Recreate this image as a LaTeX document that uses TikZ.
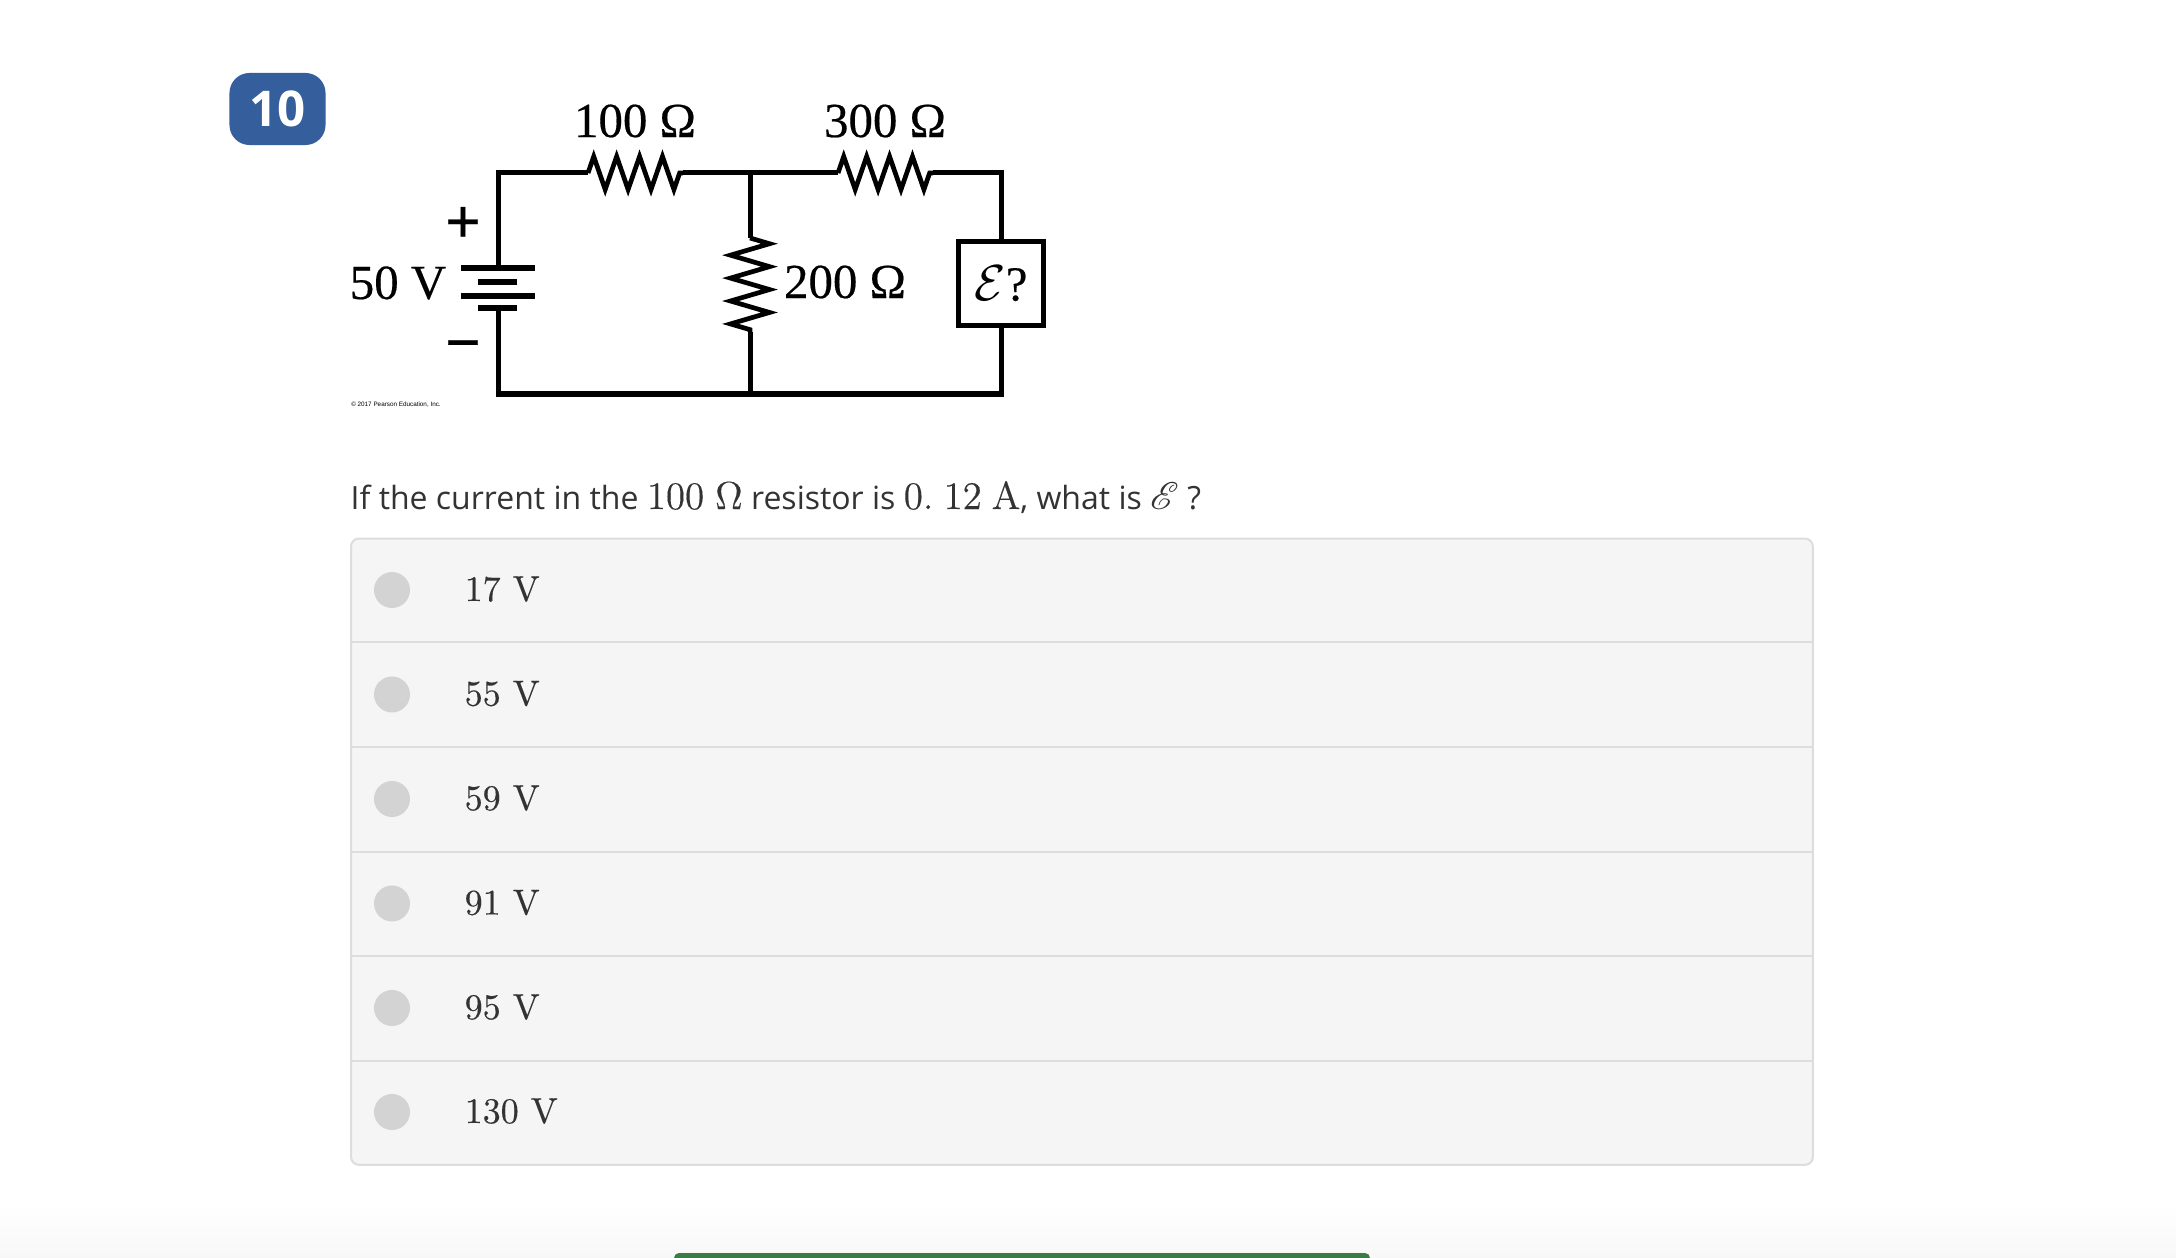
\documentclass[tikz,border=0pt]{standalone}
\usepackage{fontspec}
\usepackage{mathrsfs}
\usetikzlibrary{decorations.pathmorphing}
\newfontfamily\uifont{Open Sans}
\newfontfamily\figfont[FakeBold=0.4]{Liberation Serif}
\newfontfamily\notefont{Liberation Sans}
\newfontfamily\answerfont[FakeBold=0.3]{Latin Modern Roman}
\definecolor{badgeblue}{HTML}{345E9C}
\definecolor{inktext}{HTML}{333333}
\definecolor{cardfill}{HTML}{F5F5F5}
\definecolor{cardline}{HTML}{DDDDDD}
\definecolor{radiogray}{HTML}{D3D3D3}
\definecolor{btngreen}{HTML}{3A7D44}
\begin{document}
\begin{tikzpicture}[
    x=0.01cm, y=-0.01cm,
    wire/.style={line width=0.05cm, line join=miter},
    plate/.style={line width=0.055cm},
    resistor/.style={wire, line width=0.047cm, decorate, decoration={zigzag, segment length=0.229cm, amplitude=#1}},
    figlabel/.style={inner sep=0, font=\figfont\fontsize{13.9}{16}\selectfont},
    sign/.style={inner sep=0, font=\figfont\bfseries\fontsize{18}{20}\selectfont},
    badge/.style={fill=badgeblue, rounded corners=0.2cm, minimum width=0.96cm, minimum height=0.72cm, inner sep=0, text=white, font=\uifont\bfseries\fontsize{14}{16}\selectfont},
    card/.style={draw=cardline, fill=cardfill, line width=0.02cm, rounded corners=0.08cm, minimum width=14.61cm, minimum height=6.26cm, anchor=north west, inner sep=0},
    divider/.style={draw=cardline, line width=0.02cm},
    radio/.style={circle, fill=radiogray, minimum size=0.36cm, inner sep=0},
    answer/.style={anchor=base west, inner sep=0, text=inktext, font=\answerfont\fontsize{10.24}{12}\selectfont}
]
    \useasboundingbox (0,0) rectangle (2176,1258);
    \fill[white] (0,0) rectangle (2176,1258);
    \shade[top color=white, bottom color=black!3] (0,1205) rectangle (2176,1258);

    \node[badge] (qnum) at (277.5,109) {10};

    % circuit
    \coordinate (tl) at (498,173);
    \coordinate (tm) at (750,173);
    \coordinate (tr) at (1001,173);
    \coordinate (bl) at (498,394);
    \coordinate (bm) at (750,394);
    \coordinate (br) at (1001,394);
    \coordinate (rain) at (588,173);
    \coordinate (raout) at (683,173);
    \coordinate (rbin) at (838,173);
    \coordinate (rbout) at (933,173);
    \coordinate (rcin) at (750,238);
    \coordinate (rcout) at (750,332);
    \coordinate (battop) at (498,268);
    \coordinate (batbot) at (498,308);

    \node[draw, line width=0.042cm, minimum width=0.85cm, minimum height=0.84cm, inner sep=0, figlabel] (emf) at (1001,283.5) {$\mathcal{E}$?};

    \draw[wire] (battop) -- (tl) -- (rain);
    \draw[resistor=0.165cm] (rain) -- (raout);
    \draw[wire] (raout) -- (rbin);
    \draw[resistor=0.165cm] (rbin) -- (rbout);
    \draw[wire] (rbout) -- (tr) -- (emf.north);
    \draw[wire] (emf.south) -- (br) -- (bl) -- (batbot);
    \draw[wire] (tm) -- (rcin);
    \draw[resistor=0.195cm] (rcin) -- (rcout);
    \draw[wire] (rcout) -- (bm);

    % battery plates
    \draw[plate] (461,268) -- (535,268);
    \draw[plate] (478,282) -- (517,282);
    \draw[plate] (461,296) -- (535,296);
    \draw[plate] (478,308) -- (517,308);

    \node[figlabel] (la) at (635,121) {100 Ω};
    \node[figlabel] (lb) at (885,121) {300 Ω};
    \node[figlabel] (lc) at (845,282) {200 Ω};
    \node[figlabel] (lv) at (398,283) {50 V};
    \node[sign] (plus) at (463,225) {+};
    \node[sign] (minus) at (463,352) {−};
    \node[inner sep=0, font=\notefont\fontsize{1.8}{2}\selectfont] (note) at (396,405) {© 2017 Pearson Education, Inc.};

    % question
    \node[anchor=base west, inner sep=0, text=inktext, font=\uifont\fontsize{9.1}{12}\selectfont] (question) at (350,509) {If the current in the {\answerfont\fontsize{11.1}{12}\selectfont 100\hspace{0.11cm}Ω} resistor is {\answerfont\fontsize{11.1}{12}\selectfont 0.\hspace{0.1cm}12\hspace{0.1cm}A}, what is {\fontsize{11.1}{12}\selectfont$\mathscr{E}$} ?};

    % answers
    \node[card] (card) at (350,537.5) {};
    \draw[divider] (card.west |- 0,642) -- (card.east |- 0,642);
    \draw[divider] (card.west |- 0,747) -- (card.east |- 0,747);
    \draw[divider] (card.west |- 0,851.5) -- (card.east |- 0,851.5);
    \draw[divider] (card.west |- 0,956) -- (card.east |- 0,956);
    \draw[divider] (card.west |- 0,1060.5) -- (card.east |- 0,1060.5);

    \node[radio] (ra) at (392,590) {};
    \node[radio] (rb) at (392,694.5) {};
    \node[radio] (rc) at (392,799) {};
    \node[radio] (rd) at (392,903.5) {};
    \node[radio] (re) at (392,1008) {};
    \node[radio] (rf) at (392,1112) {};
    \node[answer] (aa) at (464,601) {17 V};
    \node[answer] (ab) at (464,705.5) {55 V};
    \node[answer] (ac) at (464,810) {59 V};
    \node[answer] (ad) at (464,914.5) {91 V};
    \node[answer] (ae) at (464,1019) {95 V};
    \node[answer] (af) at (464,1123) {130 V};

    \fill[btngreen] (674,1258) [rounded corners=0.05cm] -- (674,1253) -- (1370,1253) [sharp corners] -- (1370,1258) -- cycle;
\end{tikzpicture}
\end{document}
